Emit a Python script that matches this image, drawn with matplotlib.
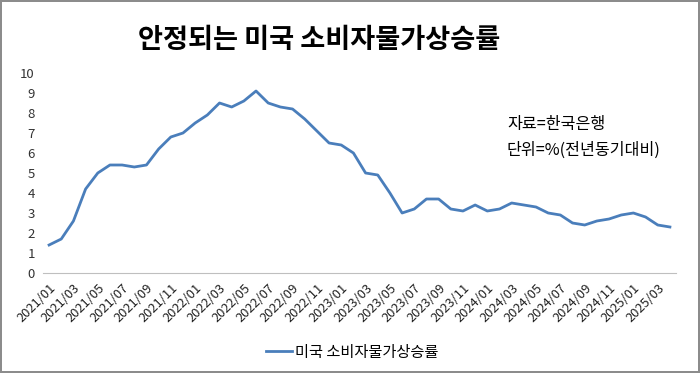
import numpy as np
import matplotlib.pyplot as plt

plt.rcParams['font.family'] = ['Noto Sans CJK KR', 'DejaVu Sans']

# 월별 미국 CPI 상승률 (전년동기대비, %)
months = [f'{y}/{m:02d}' for y in range(2021, 2026) for m in range(1, 13)][:52]
cpi = [1.4, 1.7, 2.6, 4.2, 5.0, 5.4, 5.4, 5.3, 5.4, 6.2, 6.8, 7.0,
       7.5, 7.9, 8.5, 8.3, 8.6, 9.1, 8.5, 8.3, 8.2, 7.7, 7.1, 6.5,
       6.4, 6.0, 5.0, 4.9, 4.0, 3.0, 3.2, 3.7, 3.7, 3.2, 3.1, 3.4,
       3.1, 3.2, 3.5, 3.4, 3.3, 3.0, 2.9, 2.5, 2.4, 2.6, 2.7, 2.9,
       3.0, 2.8, 2.4, 2.3]
yticks = list(range(0, 11))

fig = plt.figure(figsize=(7, 3.73), dpi=100, linewidth=1.5, edgecolor='#8c8c8c')
ax = fig.add_axes([43/700, 100/373, 633/700, 200/373])

x = np.arange(len(cpi))
ax.plot(x, cpi, color='#4a7ebb', lw=2, label='미국 소비자물가상승률')

ax.set_xlim(-0.5, len(cpi) - 0.5)
ax.set_ylim(0, 10)
ax.set_yticks(yticks)
ax.set_yticklabels([str(v) for v in yticks], fontsize=9.5, color='#333333')
ax.set_xticks(x[::2])
ax.set_xticklabels(months[::2], rotation=45, ha='right', rotation_mode='anchor',
                   fontsize=9.3, color='#222222')
ax.tick_params(length=0, pad=6)
for s in ['top', 'right', 'left']:
    ax.spines[s].set_visible(False)
ax.spines['bottom'].set_color('#bfbfbf')

fig.text(319/700, 1 - 40/373, '안정되는 미국 소비자물가상승률', ha='center', va='center',
         fontsize=19.6, fontweight='bold')
fig.text(507/700, 1 - 125/373, '자료=한국은행', ha='left', va='center', fontsize=11.6)
fig.text(507/700, 1 - 150/373, '단위=%(전년동기대비)', ha='left', va='center', fontsize=11.6)

fig.legend(loc='center', bbox_to_anchor=(352/700, 1 - 352/373), frameon=False,
           fontsize=11, handlelength=1.7, handletextpad=0.2)

fig.savefig('out.png', dpi=100)
